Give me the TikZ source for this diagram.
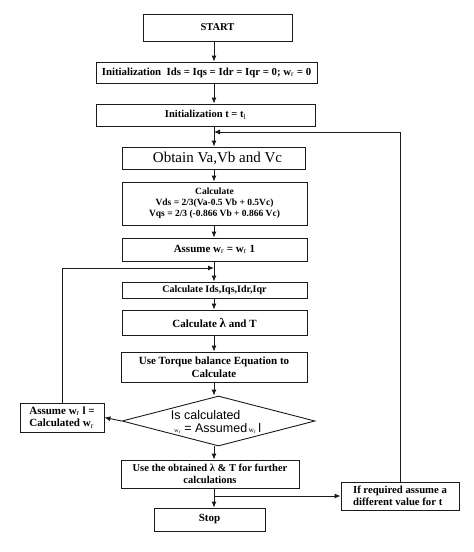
\documentclass[tikz,border=0pt]{standalone}
\usepackage{fontspec}
\setmainfont{Liberation Serif}
\newfontfamily\arialfont{Liberation Sans}
\usetikzlibrary{positioning,arrows.meta,shapes.geometric}
\definecolor{flowline}{HTML}{1A1A1A}

\begin{document}
\begin{tikzpicture}[x=1pt,y=-1pt,
    stepbox/.style={draw=flowline, line width=0.9pt, rectangle, inner sep=2pt, minimum width=#1, align=center, font=\fontsize{11}{12.5}\selectfont\bfseries},
    stepbox/.default=185pt,
    decide/.style={draw=flowline, line width=0.9pt, diamond, aspect=3.86, inner sep=0pt, minimum width=193pt, minimum height=50pt},
    arrow/.style={-{Latex[length=6pt,width=5pt]}, line width=0.9pt, draw=flowline},
]
\useasboundingbox (0,0) rectangle (474,552);

\node[stepbox=149pt, minimum height=27pt, font=\fontsize{10.5}{12}\selectfont\bfseries] (start) at (217.5,27.5) {START};
\node[stepbox=221pt, minimum height=21pt, font=\fontsize{10.8}{12}\selectfont\bfseries] (init1) at (206.5,72.5) {Initialization\ \ Ids = Iqs = Idr = Iqr = 0; w$_{\mathrm{r}}$ = 0};
\node[stepbox=219pt, minimum height=22pt, font=\fontsize{10.5}{12}\selectfont\bfseries] (init2) at (205.5,115) {Initialization t = t$_{\mathrm{l}}$};
\node[stepbox=183pt, minimum height=22pt, font=\fontsize{15}{17}\selectfont] (obtain) at (213.5,158) {\hspace{8pt}Obtain Va,Vb and Vc};
\node[stepbox, minimum height=43pt, font=\fontsize{9.5}{11}\selectfont\bfseries] (calc) at (214.5,203.5) {Calculate\\Vds = 2/3(Va-0.5 Vb + 0.5Vc)\\Vqs = 2/3 (-0.866 Vb + 0.866 Vc)};
\node[stepbox, minimum height=23pt] (assume) at (214.5,249.5) {Assume w$_{\mathrm{r}}$ = w$_{\mathrm{r}}$ 1};
\node[stepbox, minimum height=16pt, font=\fontsize{10}{11}\selectfont\bfseries] (calcI) at (214.5,290) {Calculate Ids,Iqs,Idr,Iqr};
\node[stepbox, minimum height=25pt] (calcL) at (214.5,322.5) {Calculate {\fontsize{13}{13}\selectfont λ} and T};
\node[stepbox=186pt, minimum height=30pt] (torque) at (214,367) {Use Torque balance Equation to\\Calculate};
\node[decide] (check) at (218.5,421) {};
\node[align=left, inner sep=0pt, font=\arialfont\fontsize{12.5}{13}\selectfont] (checktext) at (216,421.5) {Is calculated\\[0pt]\ {\rmfamily\fontsize{6}{6}\selectfont w$_{\mathrm{r}}$} = Assumed{\rmfamily\fontsize{7.5}{7.5}\selectfont\,w$_{\mathrm{r}}$}\,l};
\node[stepbox=84pt, minimum height=29pt, align=left] (assumeL) at (62,417.5) {Assume w$_{\mathrm{r}}$ l =\\Calculated w$_{\mathrm{r}}$};
\node[stepbox=178pt, minimum height=28pt, font=\fontsize{10.5}{12}\selectfont\bfseries] (use) at (210,474) {Use the obtained λ \& T for further\\calculations};
\node[stepbox=111pt, minimum height=23pt] (stop) at (209.5,519.5) {Stop};
\node[stepbox=118pt, minimum height=28pt, align=left, font=\fontsize{10.7}{12.5}\selectfont\bfseries] (ifreq) at (400,496) {If required assume a\\different value for t};

% junctions on the main line
\coordinate (j1) at (214,132);
\coordinate (j2) at (214,268);
\coordinate (j3) at (214,496);

\draw[arrow] (j1 |- start.south) -- (j1 |- init1.north);
\foreach \a/\b in {init1/init2, init2/obtain, obtain/calc, calc/assume, assume/calcI, calcI/calcL, calcL/torque, torque/check, check/use, use/stop} {
    \draw[arrow] (j1 |- \a.south) -- (j1 |- \b.north);
}
\draw[arrow] (check.west) -- (assumeL.east);
\draw[arrow] (j3) -- (ifreq.west);
\draw[arrow] (assumeL.north) |- (j2);
\draw[arrow] (ifreq.north) |- (j1);
\end{tikzpicture}
\end{document}
